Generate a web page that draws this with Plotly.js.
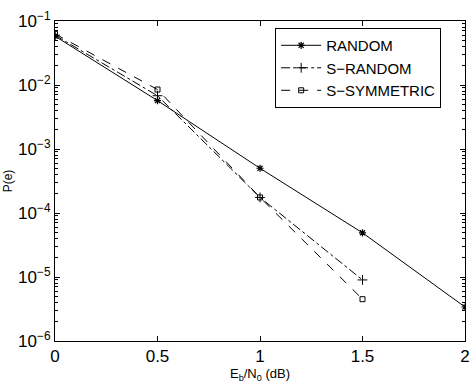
<!DOCTYPE html>
<html>
<head>
<meta charset="utf-8">
<script src="https://cdn.plot.ly/plotly-3.0.1.min.js"></script>
<style>html,body{margin:0;padding:0;background:#fff;}#chart{width:474px;height:383px;}</style>
</head>
<body>
<div id="chart"></div>
<script>
const ebno = [0, 0.5, 1, 1.5, 2];
const ebnoS = [0, 0.5, 1, 1.5];
const randomPe = [0.058, 0.0057, 5.0e-4, 4.9e-5, 3.4e-6];
const sRandomPe = [0.060, 0.0068, 1.75e-4, 9.0e-6];
const sSymmetricPe = [0.063, 0.0085, 1.75e-4, 4.5e-6];
const yTickVals = [1e-6, 1e-5, 1e-4, 1e-3, 1e-2, 1e-1];
const yTickText = ['10<sup>−6</sup>', '10<sup>−5</sup>', '10<sup>−4</sup>', '10<sup>−3</sup>', '10<sup>−2</sup>', '10<sup>−1</sup>'];
const xTickVals = [0, 0.5, 1, 1.5, 2];
const xTickText = ['0', '0.5', '1', '1.5', '2'];

const font = 'Liberation Sans, Arial, Helvetica, sans-serif';
const traces = [
  {x: ebno, y: randomPe, name: 'RANDOM', mode: 'lines+markers',
   line: {color: '#000', width: 1, dash: 'solid'},
   marker: {symbol: 'asterisk-open', size: 6, color: '#000', line: {color: '#000', width: 1.2}}},
  {x: ebnoS, y: sRandomPe, name: 'S−RANDOM', mode: 'lines+markers',
   line: {color: '#000', width: 1, dash: 'dashdot'},
   marker: {symbol: 'cross-thin-open', size: 7, color: '#000', line: {color: '#000', width: 1}}},
  {x: ebnoS, y: sSymmetricPe, name: 'S−SYMMETRIC', mode: 'lines+markers',
   line: {color: '#000', width: 1, dash: 'dash'},
   marker: {symbol: 'square-open', size: 5, color: '#000', line: {color: '#000', width: 1}}}
];
const layout = {
  width: 474, height: 383,
  margin: {l: 55, r: 9, t: 21, b: 42},
  paper_bgcolor: '#fff', plot_bgcolor: '#fff',
  font: {family: font, color: '#000', size: 17},
  showlegend: true,
  legend: {x: 0.537, y: 0.978, xanchor: 'left', yanchor: 'top',
    bordercolor: '#000', borderwidth: 1, bgcolor: '#fff',
    font: {family: font, size: 15, color: '#000'},
    tracegroupgap: 0, itemwidth: 40},
  xaxis: {range: [0, 2], tickvals: xTickVals, ticktext: xTickText,
    ticks: 'inside', ticklen: 5, tickcolor: '#000', mirror: 'ticks',
    showline: true, linecolor: '#000', linewidth: 1, showgrid: false, zeroline: false,
    tickfont: {size: 17, family: font},
    title: {text: 'E<sub>b</sub>/N<sub>0</sub> (dB)', font: {size: 13, family: font}, standoff: 0}},
  yaxis: {type: 'log', range: [-6, -1], tickvals: yTickVals, ticktext: yTickText,
    ticks: 'inside', ticklen: 5, tickcolor: '#000', mirror: 'ticks',
    showline: true, linecolor: '#000', linewidth: 1, showgrid: false, zeroline: false,
    minor: {ticks: 'inside', ticklen: 3, tickcolor: '#000', showgrid: false,
      tickvals: (function(){const v=[];for(let e=-6;e<-1;e++){for(let m=2;m<=9;m++){v.push(m*Math.pow(10,e));}}return v;})()},
    tickfont: {size: 17, family: font},
    title: {text: 'P(e)', font: {size: 12, family: font}, standoff: 2}}
};
Plotly.newPlot('chart', traces, layout, {staticPlot: true, displayModeBar: false});
</script>
</body>
</html>
